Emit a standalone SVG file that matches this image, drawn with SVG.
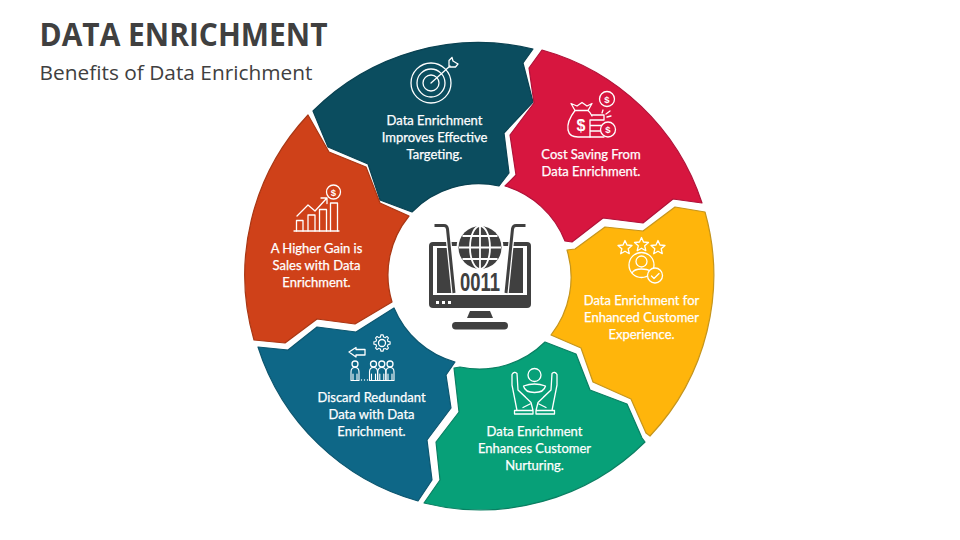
<svg xmlns="http://www.w3.org/2000/svg" width="960" height="540" viewBox="0 0 960 540">
<style>
.title{font-family:"Open Sans","Liberation Sans",sans-serif;fill:#404040}
.lb{font-family:Lato,"Open Sans",sans-serif;font-size:13px;fill:#fff;stroke:#fff;stroke-width:.25;text-anchor:middle}
.ic{fill:none;stroke:#fff;stroke-width:1.3;stroke-linejoin:round;stroke-linecap:round}
.d{font-family:"Liberation Sans",sans-serif;font-weight:700;fill:#fff;text-anchor:middle}
.seg{stroke-width:1.2;stroke-linejoin:round}
</style>
<defs>
<path id="tooth" d="M-1.520,-6.110L-1.140,-8.120L1.140,-8.120L1.520,-6.110L3.240,-5.400"/>
<path id="person" d="M-4,380.500V372Q-4,367.500 0,367.500Q4,367.500 4,372V380.500ZM-2,374V380.500M2,374V380.500" stroke-width="1.100"/>
</defs>
<rect width="960" height="540" fill="#fff"/>
<g id="heading">
<text class="title" x="39.500" y="46" font-size="32" font-weight="700" textLength="288" lengthAdjust="spacingAndGlyphs">DATA ENRICHMENT</text>
<text class="title" x="39.500" y="80" font-size="20.500" textLength="273" lengthAdjust="spacingAndGlyphs">Benefits of Data Enrichment</text>
</g>

<g id="node-targeting">
<path class="seg" fill="#0b4d5f" stroke="#0a4252" d="M313,111A234,234 0 0 1 533,49L523,63L533,102L504,133L509,173L499,186A93,93 0 0 0 412,212L380,200L368,164L328,147Z"/>
<g class="ic">
<circle cx="431" cy="83" r="20"/><circle cx="431" cy="83" r="14"/><circle cx="431" cy="83" r="8"/>
<path d="M431,83L450,66M449,60.500L449,67L455.500,67M452,57.500L449,60.500M458,64L455.500,67M452,57.500L453,61L458,64"/>
</g>
<text class="lb" x="434.500" y="125">Data Enrichment</text>
<text class="lb" x="434.500" y="142">Improves Effective</text>
<text class="lb" x="434.500" y="159">Targeting.</text>
</g>

<g id="node-cost">
<path class="seg" fill="#d7163f" stroke="#b01238" d="M542,50A234,234 0 0 1 702,203L673,199L643,223L603,218L572,242L565,241A93,93 0 0 0 505,186L516,175L510,135L534,103L529,68Z"/>
<g class="ic">
<circle cx="607" cy="99" r="7.500"/>
<path d="M571,103.500L577,106L582,102.500L587,106L592,103.500L588,110.500L575,110.500Z"/>
<path d="M575,110.500C570,117 567,124 568,130C569,135 573,137 578,137L590,137"/>
<path d="M588,110.500C590,112 591,114 592,116"/>
<path d="M592,115H604V120H590V125.500H602M590,120V137H604M590,131H601"/>
<path d="M603,110L602,113M610,111L606,114M611,116L607,117"/>
<circle cx="608" cy="129.500" r="7.500" fill="#d7163f"/>
</g>
<text class="d" x="581" y="131" font-size="16">$</text>
<text class="d" x="607" y="102.500" font-size="9.500">$</text>
<text class="d" x="608" y="133" font-size="9.500">$</text>
<text class="lb" x="591" y="159">Cost Saving From</text>
<text class="lb" x="591" y="176">Data Enrichment.</text>
</g>

<g id="node-experience">
<path class="seg" fill="#ffb50b" stroke="#c6951b" d="M705,212A234,234 0 0 1 650,436L646,433L631,399L593,382L581,348L551,335A93,93 0 0 0 567,250L575,249L605,227L643,231L675,207Z"/>
<g class="ic">
<path d="M625,240.500L627,245L632,245.500L628.200,248.800L629.300,253.700L625,251.200L620.700,253.700L621.800,248.800L618,245.500L623,245Z"/>
<path d="M641.500,237.500L643.500,242L648.500,242.500L644.700,245.800L645.800,250.700L641.500,248.200L637.200,250.700L638.300,245.800L634.500,242.500L639.500,242Z"/>
<path d="M658,240.500L660,245L665,245.500L661.200,248.800L662.300,253.700L658,251.200L653.700,253.700L654.800,248.800L651,245.500L656,245Z"/>
<circle cx="641.500" cy="265" r="12.500"/><circle cx="641.500" cy="261.500" r="5.500"/>
<path d="M632,273C634,269 638,269 641.500,269C645,269 648,269.500 650,271"/>
<circle cx="655" cy="275.500" r="7.500" fill="#ffb50b"/><path d="M651.500,276L654,278.500L659,273.500"/>
</g>
<text class="lb" x="641.500" y="305">Data Enrichment for</text>
<text class="lb" x="641.500" y="322">Enhanced Customer</text>
<text class="lb" x="641.500" y="339">Experience.</text>
</g>

<g id="node-nurturing">
<path class="seg" fill="#07a078" stroke="#0a7f62" d="M645,442A234,234 0 0 1 424,503L440,480L436,442L459,412L454,368L460,367A93,93 0 0 0 545,342L576,354L590,390L627,404L642,438Z"/>
<g class="ic">
<circle cx="534.500" cy="375" r="6.500"/><path d="M523.500,386Q534.500,382 545.500,386Q544,392.500 534.500,392.500Q525,392.500 523.500,386Z"/>
<path d="M514.500,414V410.500H533V414ZM517,410.500L512,385V374.500Q514,371 517,373.500L518,390L531,402.500L533,410.500M523,407.500L530,404M518,390L525.500,397"/>
<path d="M554.500,414V410.500H536V414ZM552,410.500L557,385V374.500Q555,371 552,373.500L551,390L538,402.500L536,410.500M546,407.500L539,404M551,390L543.500,397"/>
</g>
<text class="lb" x="534.500" y="436">Data Enrichment</text>
<text class="lb" x="534.500" y="453">Enhances Customer</text>
<text class="lb" x="534.500" y="470">Nurturing.</text>
</g>

<g id="node-redundant">
<path class="seg" fill="#0e6787" stroke="#0c566f" d="M418,501A234,234 0 0 1 258,347L288,350L317,327L356,332L394,308A93,93 0 0 0 455,362L446,375L451,408L427,440L432,480Z"/>
<g class="ic">
<circle cx="382" cy="343" r="3.500"/>
<g transform="translate(382 343)" stroke-width="1.100">
<use href="#tooth"/><use href="#tooth" transform="rotate(45)"/><use href="#tooth" transform="rotate(90)"/><use href="#tooth" transform="rotate(135)"/><use href="#tooth" transform="rotate(180)"/><use href="#tooth" transform="rotate(225)"/><use href="#tooth" transform="rotate(270)"/><use href="#tooth" transform="rotate(315)"/>
</g>
<path d="M349,352L356,347.500V349.500H365V355H356V357Z"/>
<circle cx="355" cy="364" r="3"/><use href="#person" x="355"/>
<circle cx="373.500" cy="364" r="3"/><use href="#person" x="373.500"/>
<circle cx="381.800" cy="364" r="3"/><use href="#person" x="381.800"/>
<circle cx="390" cy="364" r="3"/><use href="#person" x="390"/>
</g>
<g fill="#fff"><circle cx="361.500" cy="380" r=".7"/><circle cx="364.500" cy="380" r=".7"/><circle cx="367.500" cy="380" r=".7"/></g>
<text class="lb" x="371.500" y="402">Discard Redundant</text>
<text class="lb" x="371.500" y="419">Data with Data</text>
<text class="lb" x="371.500" y="436">Enrichment.</text>
</g>

<g id="node-gain">
<path class="seg" fill="#cf4119" stroke="#a93714" d="M254,340A234,234 0 0 1 308,115L329,152L366,167L380,203L409,216A93,93 0 0 0 392,302L355,324L317,319L285,343Z"/>
<g class="ic">
<path d="M294,231H339"/>
<path d="M296.500,231V220.500H303V231M308,231V215H315V231M319.500,231V209.500H326.500V231M330.500,231V203H337.500V231"/>
<path d="M297,216L308,205L315,211L326,199M321,198H327V203.500"/>
<circle cx="333.500" cy="192" r="7"/>
</g>
<text class="d" x="333.500" y="195.500" font-size="9.500">$</text>
<text class="lb" x="316.500" y="253">A Higher Gain is</text>
<text class="lb" x="316.500" y="270">Sales with Data</text>
<text class="lb" x="316.500" y="287">Enrichment.</text>
</g>

<g id="node-center">
<rect x="429" y="242" width="102" height="66" rx="4" fill="#404040"/>
<rect x="433" y="246" width="94" height="49" fill="#fff"/>
<path d="M437,248H449L454,293H437ZM523,248H511L506,293H523Z" fill="#404040"/>
<circle cx="480" cy="247.500" r="23.500" fill="#fff"/>
<circle cx="480" cy="247.500" r="21.500" fill="#404040"/>
<g fill="none" stroke="#fff" stroke-width="1.800">
<ellipse cx="480" cy="247.500" rx="10" ry="21.500"/>
<path d="M480,226V269M459,247.500H501M462.500,236H497.500M462.500,259H497.500"/>
</g>
<path d="M434.500,225.500H444Q447,225.500 447.500,229L454,293" fill="none" stroke="#fff" stroke-width="5.500"/>
<path d="M525.500,225.500H516Q513,225.500 512.500,229L506,293" fill="none" stroke="#fff" stroke-width="5.500"/>
<path d="M434.500,225.500H444Q447,225.500 447.500,229L454,293" fill="none" stroke="#404040" stroke-width="3"/>
<path d="M525.500,225.500H516Q513,225.500 512.500,229L506,293" fill="none" stroke="#404040" stroke-width="3"/>
<text x="480" y="291" font-family="'Liberation Sans',sans-serif" font-weight="700" font-size="25" fill="#404040" text-anchor="middle" textLength="40" lengthAdjust="spacingAndGlyphs">0011</text>
<g fill="#fff"><rect x="436" y="301" width="3" height="3"/><rect x="442" y="301" width="3" height="3"/><rect x="448" y="301" width="3" height="3"/></g>
<path d="M470,311H490L493,318H467Z" fill="#404040"/>
<rect x="452" y="322" width="56" height="7.500" rx="3.700" fill="#404040"/>
</g>
</svg>
